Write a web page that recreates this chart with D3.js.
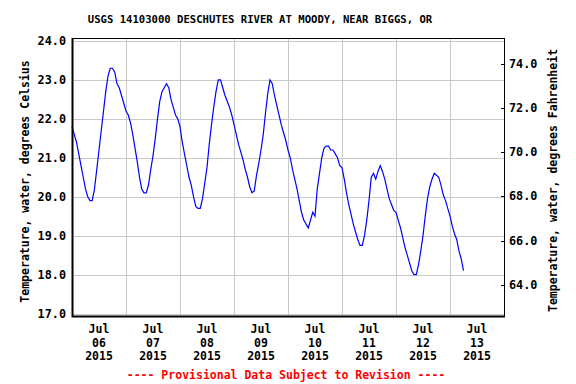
<!DOCTYPE html>
<html>
<head>
<meta charset="utf-8">
<script src="https://cdn.jsdelivr.net/npm/d3@7"></script>
<style>
  body { margin: 0; background: #fff; }
  text { font-family: "DejaVu Sans Mono", monospace; font-weight: bold; fill: #000; }
  .grid line { stroke: #c8c8c8; stroke-width: 1; }
</style>
</head>
<body>
<div id="chart"></div>
<script>
var svgWidth = 576;
var svgHeight = 384;

// hourly water temperature (deg C), one array per day starting 00:00
var jul06 = [21.8, 21.6, 21.4, 21.1, 20.8, 20.5, 20.2, 20.0, 19.9, 19.9, 20.2, 20.7,
             21.2, 21.7, 22.2, 22.7, 23.1, 23.3, 23.3, 23.2, 22.9, 22.8, 22.6, 22.4];
var jul07 = [22.2, 22.1, 21.9, 21.6, 21.25, 20.9, 20.5, 20.2, 20.1, 20.1, 20.3, 20.7,
             21.05, 21.5, 22.0, 22.45, 22.7, 22.8, 22.9, 22.8, 22.5, 22.3, 22.1, 22.0];
var jul08 = [21.8, 21.4, 21.1, 20.8, 20.5, 20.3, 20.0, 19.75, 19.7, 19.7, 19.95, 20.35,
             20.75, 21.35, 21.85, 22.3, 22.7, 23.0, 23.0, 22.8, 22.6, 22.45, 22.3, 22.1];
var jul09 = [21.85, 21.6, 21.35, 21.15, 20.95, 20.7, 20.5, 20.25, 20.1, 20.15, 20.55, 20.85,
             21.2, 21.6, 22.15, 22.65, 23.0, 22.9, 22.6, 22.35, 22.1, 21.85, 21.65, 21.45];
var jul10 = [21.2, 21.0, 20.7, 20.45, 20.2, 19.9, 19.6, 19.4, 19.3, 19.2, 19.4, 19.6,
             19.5, 20.2, 20.6, 21.0, 21.25, 21.3, 21.3, 21.2, 21.2, 21.1, 21.0, 20.8];
var jul11 = [20.75, 20.45, 20.1, 19.8, 19.55, 19.3, 19.1, 18.9, 18.75, 18.75, 19.0, 19.4,
             19.9, 20.5, 20.6, 20.45, 20.65, 20.8, 20.65, 20.45, 20.2, 19.95, 19.8, 19.65];
var jul12 = [19.6, 19.4, 19.2, 18.95, 18.7, 18.5, 18.3, 18.1, 18.0, 18.0, 18.25, 18.6,
             19.0, 19.5, 19.95, 20.25, 20.45, 20.6, 20.55, 20.5, 20.3, 20.05, 19.9, 19.7];
var jul13 = [19.5, 19.25, 19.05, 18.9, 18.6, 18.4, 18.1];

var days = [jul06, jul07, jul08, jul09, jul10, jul11, jul12, jul13];
var dayLabels = ["06", "07", "08", "09", "10", "11", "12", "13"];
var celsiusTicks = [17, 18, 19, 20, 21, 22, 23, 24];
var fahrenheitTicks = [64, 66, 68, 70, 72, 74];

var plot = { left: 72, right: 504, top: 38, bottom: 316 };

var svg = d3.select("#chart")
  .append("svg")
  .attr("width", svgWidth)
  .attr("height", svgHeight);

// flatten into timestamped points
var data = [];
days.forEach(function(day, i) {
  day.forEach(function(v, h) {
    data.push({ time: new Date(2015, 6, 6 + i, h), temp: v });
  });
});

var xScale = d3.scaleTime()
  .domain([new Date(2015, 6, 6), new Date(2015, 6, 14)])
  .range([plot.left, plot.right]);

var yScale = d3.scaleLinear()
  .domain([17, 24])
  .range([313.5, 41]);

var fScale = d3.scaleLinear()
  .domain([64, 74])
  .range([285, 63.5]);

// gridlines
var grid = svg.append("g").attr("class", "grid");

grid.selectAll(".hgrid")
  .data(celsiusTicks)
  .enter()
  .append("line")
  .attr("x1", plot.left)
  .attr("x2", plot.right)
  .attr("y1", d => Math.round(yScale(d)) + 0.5)
  .attr("y2", d => Math.round(yScale(d)) + 0.5);

grid.selectAll(".vgrid")
  .data(d3.range(1, 8))
  .enter()
  .append("line")
  .attr("x1", d => Math.round(xScale(new Date(2015, 6, 6 + d))) + 0.5)
  .attr("x2", d => Math.round(xScale(new Date(2015, 6, 6 + d))) + 0.5)
  .attr("y1", plot.top)
  .attr("y2", plot.bottom);

// temperature line
var line = d3.line()
  .x(d => xScale(d.time))
  .y(d => yScale(d.temp));

svg.append("path")
  .datum(data)
  .attr("fill", "none")
  .attr("stroke", "#0000ff")
  .attr("stroke-width", 1.2)
  .attr("d", line);

// frame
svg.append("rect")
  .attr("x", plot.left + 0.5)
  .attr("y", plot.top + 0.5)
  .attr("width", plot.right - plot.left)
  .attr("height", plot.bottom - plot.top)
  .attr("fill", "none")
  .attr("stroke", "#000")
  .attr("stroke-width", 1);

svg.append("path")
  .attr("d", `M${plot.left + 0.5},${plot.top} V${plot.bottom + 0.5} H${plot.right + 1}`)
  .attr("fill", "none")
  .attr("stroke", "#000")
  .attr("stroke-width", 2);

// left axis labels
svg.selectAll(".ctick")
  .data(celsiusTicks)
  .enter()
  .append("text")
  .attr("x", 66)
  .attr("y", d => yScale(d) + 4)
  .attr("text-anchor", "end")
  .style("font-size", "11.8px")
  .text(d => d.toFixed(1));

// right axis ticks and labels
svg.selectAll(".ftick")
  .data(fahrenheitTicks)
  .enter()
  .append("line")
  .attr("x1", plot.right - 3)
  .attr("x2", plot.right)
  .attr("y1", d => Math.round(fScale(d)) + 0.5)
  .attr("y2", d => Math.round(fScale(d)) + 0.5)
  .attr("stroke", "#000");

svg.selectAll(".flabel")
  .data(fahrenheitTicks)
  .enter()
  .append("text")
  .attr("x", 509)
  .attr("y", d => fScale(d) + 4)
  .style("font-size", "11.8px")
  .text(d => d.toFixed(1));

// x axis labels, centred at noon of each day
var xLabels = svg.selectAll(".xlabel")
  .data(dayLabels)
  .enter()
  .append("text")
  .attr("text-anchor", "middle")
  .style("font-size", "11.5px")
  .attr("transform", (d, i) => `translate(${xScale(new Date(2015, 6, 6 + i, 12))}, 0)`);

xLabels.append("tspan").attr("x", 0).attr("y", 333).text("Jul");
xLabels.append("tspan").attr("x", 0).attr("y", 346.5).text(d => d);
xLabels.append("tspan").attr("x", 0).attr("y", 359.5).text("2015");

// titles
svg.append("text")
  .attr("x", 260)
  .attr("y", 23)
  .attr("text-anchor", "middle")
  .style("font-size", "10.6px")
  .text("USGS 14103000 DESCHUTES RIVER AT MOODY, NEAR BIGGS, OR");

svg.append("text")
  .attr("transform", "translate(28.5, 181.5) rotate(-90)")
  .attr("text-anchor", "middle")
  .style("font-size", "11.5px")
  .text("Temperature, water, degrees Celsius");

svg.append("text")
  .attr("transform", "translate(556.5, 180.5) rotate(-90)")
  .attr("text-anchor", "middle")
  .style("font-size", "11.5px")
  .text("Temperature, water, degrees Fahrenheit");

svg.append("text")
  .attr("x", 286)
  .attr("y", 378.5)
  .attr("text-anchor", "middle")
  .style("font-size", "11.5px")
  .style("fill", "#ff0000")
  .text("---- Provisional Data Subject to Revision ----");
</script>
</body>
</html>
